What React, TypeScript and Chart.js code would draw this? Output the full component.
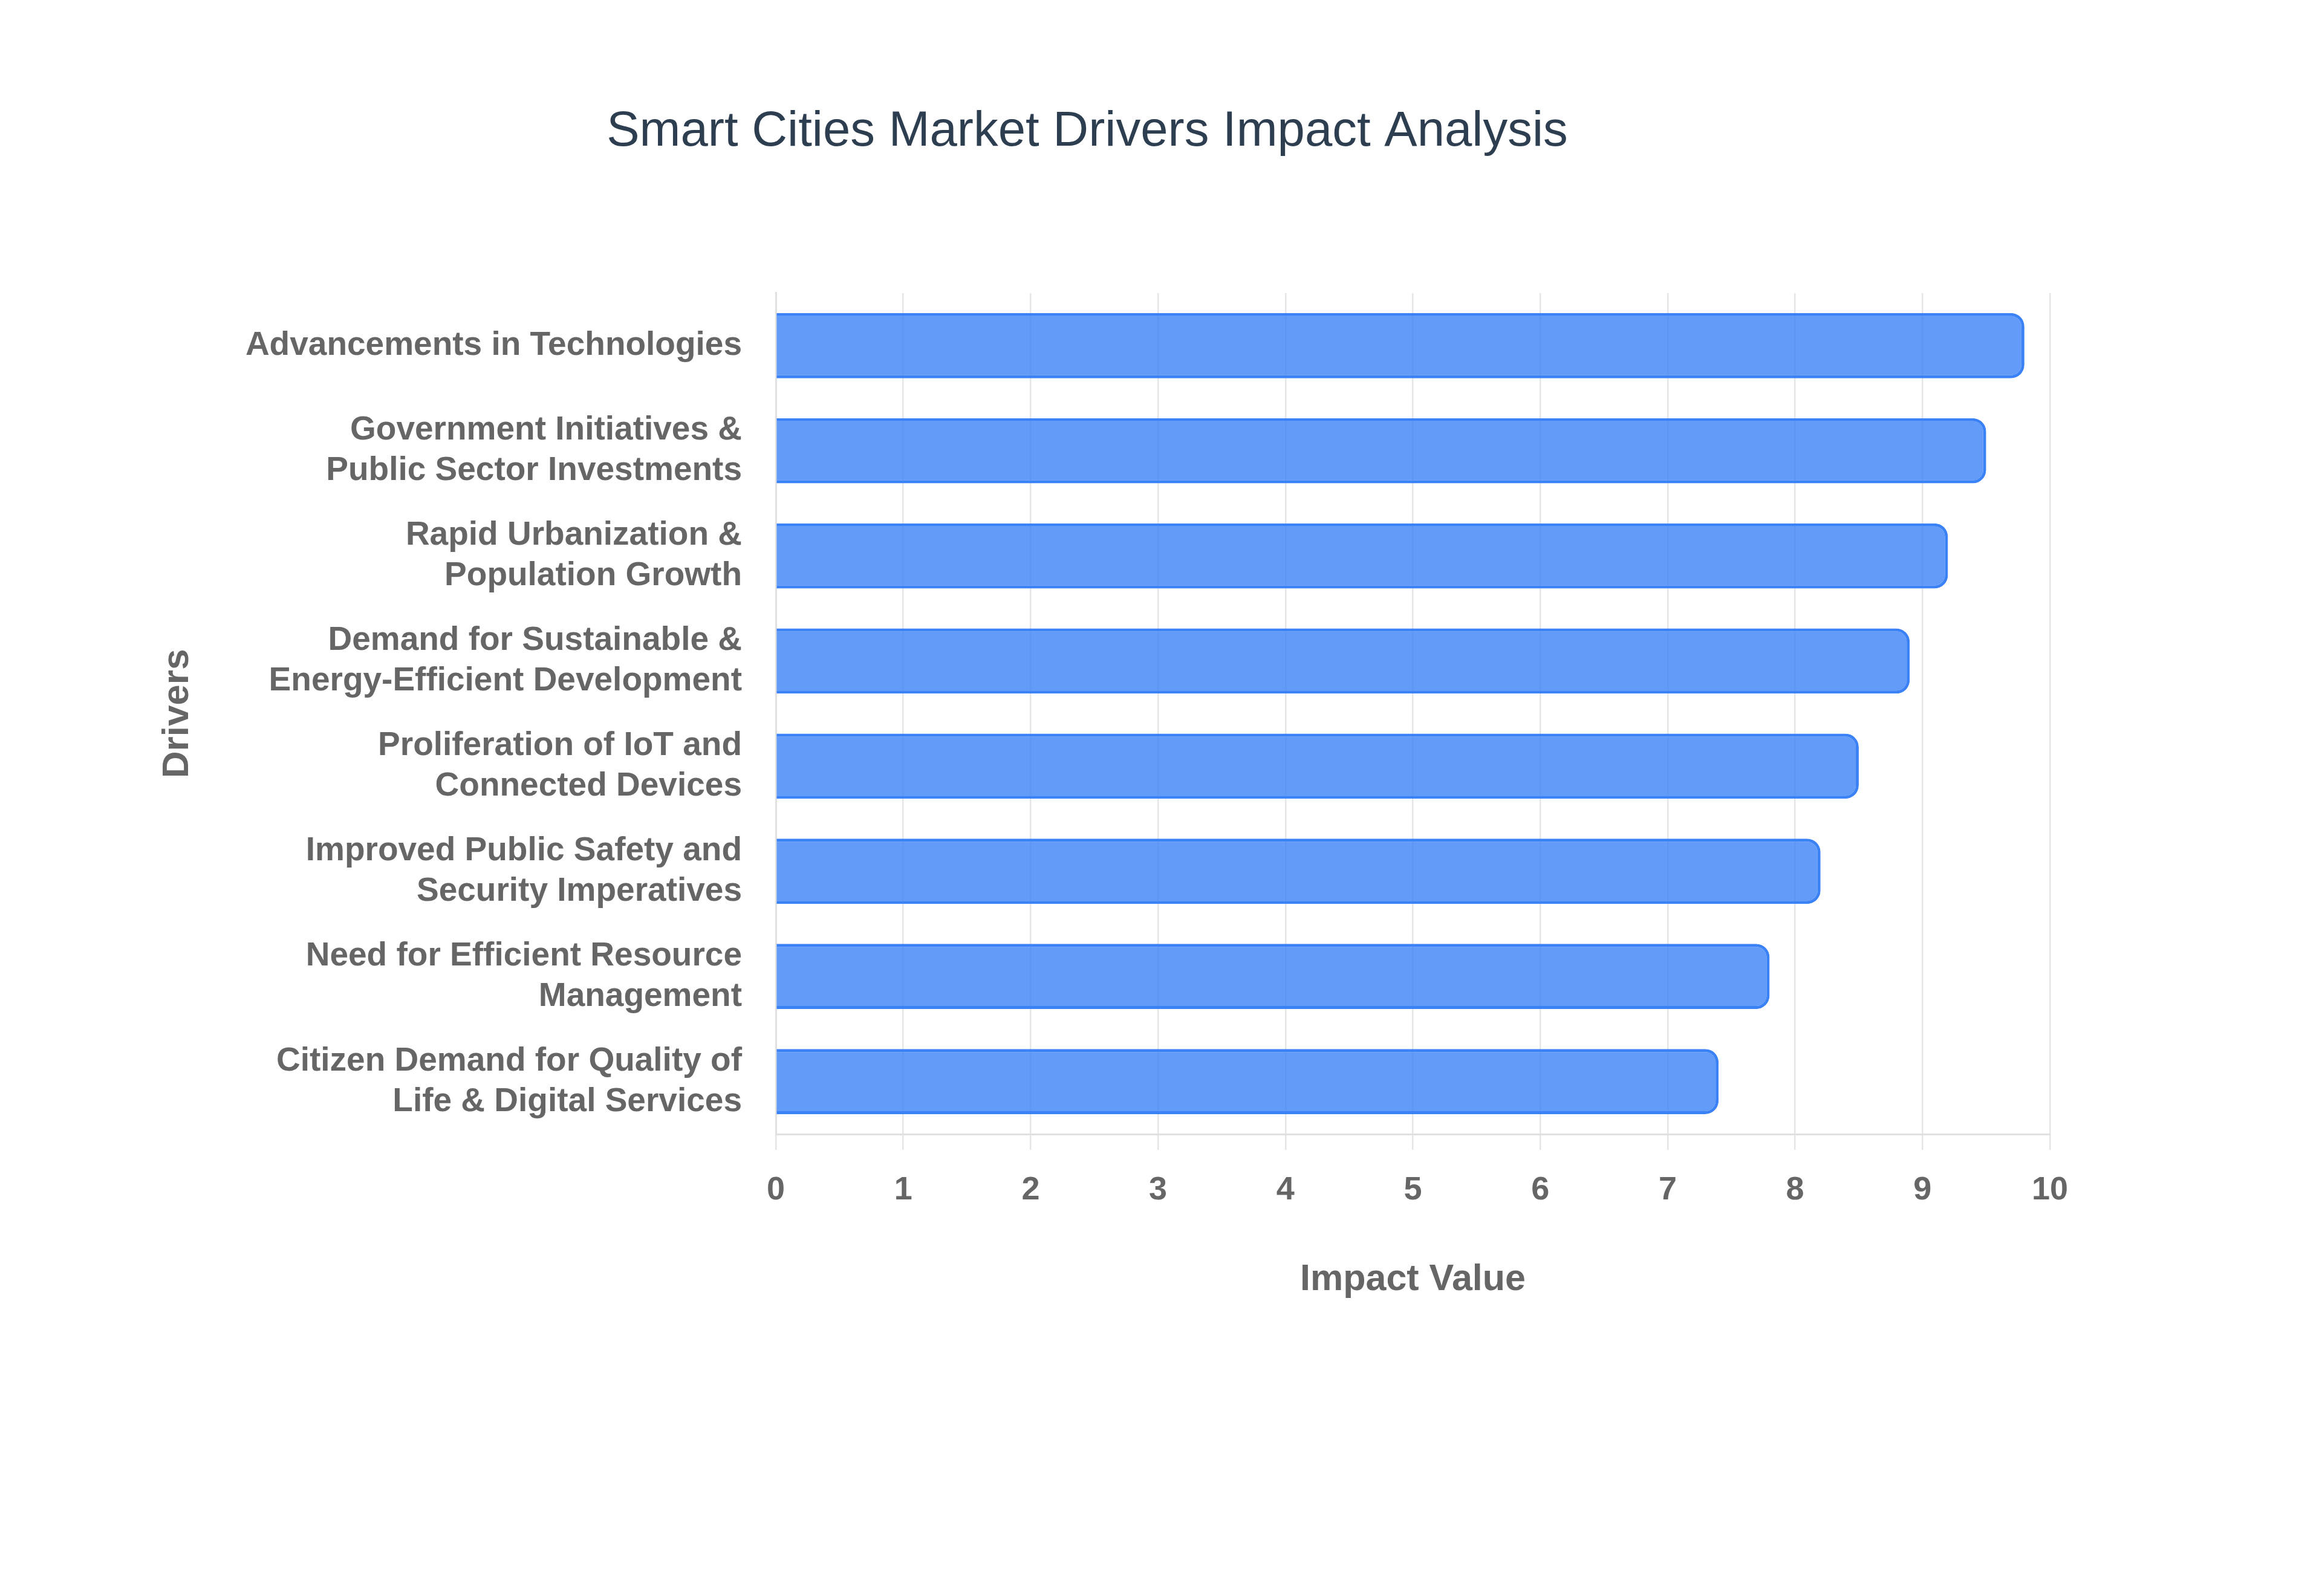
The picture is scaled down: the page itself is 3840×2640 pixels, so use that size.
import React, { useEffect, useRef } from 'react';
import { Chart, registerables } from 'chart.js';

Chart.register(...registerables);

const drivers: (string | string[])[] = [
  'Advancements in Technologies',
  ['Government Initiatives &', 'Public Sector Investments'],
  ['Rapid Urbanization &', 'Population Growth'],
  ['Demand for Sustainable &', 'Energy-Efficient Development'],
  ['Proliferation of IoT and', 'Connected Devices'],
  ['Improved Public Safety and', 'Security Imperatives'],
  ['Need for Efficient Resource', 'Management'],
  ['Citizen Demand for Quality of', 'Life & Digital Services']
];

const impactValues = [9.8, 9.5, 9.2, 8.9, 8.5, 8.2, 7.8, 7.4];

const FONT = "'Liberation Sans', Arial, Helvetica, sans-serif";

const App = () => {
  const chartRef = useRef<HTMLCanvasElement>(null);

  useEffect(() => {
    if (!chartRef.current) return;

    const chartInstance = new Chart(chartRef.current, {
      type: 'bar',
      data: {
        labels: drivers,
        datasets: [
          {
            label: 'Impact Value',
            data: impactValues,
            backgroundColor: 'rgba(59, 130, 246, 0.8)',
            borderColor: '#3b82f6',
            borderWidth: 5,
            borderRadius: 22,
            categoryPercentage: 1,
            barPercentage: 0.62
          }
        ]
      },
      options: {
        indexAxis: 'y',
        responsive: false,
        animation: false,
        devicePixelRatio: 1,
        layout: {
          // title is centred between the left padding and the chart's right edge
          padding: { left: 206, right: 206, top: 0, bottom: 486 }
        },
        plugins: {
          legend: { display: false },
          tooltip: { enabled: false },
          title: {
            display: true,
            text: 'Smart Cities Market Drivers Impact Analysis',
            color: '#2c3e50',
            font: { family: FONT, size: 81.5, weight: 'normal', lineHeight: 1.2 },
            padding: { top: 170, bottom: 217 }
          }
        },
        scales: {
          x: {
            min: 0,
            max: 10,
            ticks: {
              stepSize: 1,
              color: '#666666',
              padding: 35,
              font: { family: FONT, size: 54, weight: 'bold' }
            },
            grid: {
              color: '#e5e5e5',
              lineWidth: 2.5,
              drawTicks: true,
              tickLength: 26
            },
            border: { display: true, color: '#e0e0e0', width: 3 },
            title: {
              display: true,
              text: 'Impact Value',
              color: '#666666',
              font: { family: FONT, size: 61, weight: 'bold', lineHeight: 1.2 },
              padding: { top: 0, bottom: 0 }
            },
            afterFit: (scale: any) => {
              scale.height = 278;
            }
          },
          y: {
            ticks: {
              color: '#666666',
              padding: 56,
              font: { family: FONT, size: 55, weight: 'bold', lineHeight: 1.22 }
            },
            grid: { display: false, drawTicks: false },
            border: { display: true, color: '#e0e0e0', width: 3 },
            title: {
              display: true,
              text: 'Drivers',
              color: '#666666',
              font: { family: FONT, size: 62, weight: 'bold', lineHeight: 1.2 },
              padding: { top: 51, bottom: 0 }
            },
            afterFit: (scale: any) => {
              scale.width = 1077;
            }
          }
        }
      }
    });

    return () => {
      chartInstance.destroy();
    };
  }, []);

  return (
    <div style={{ position: 'absolute', left: 0, top: 0, width: 3840, height: 2640, background: '#ffffff' }}>
      <canvas ref={chartRef} width={3596} height={2640} />
    </div>
  );
};

export default App;
